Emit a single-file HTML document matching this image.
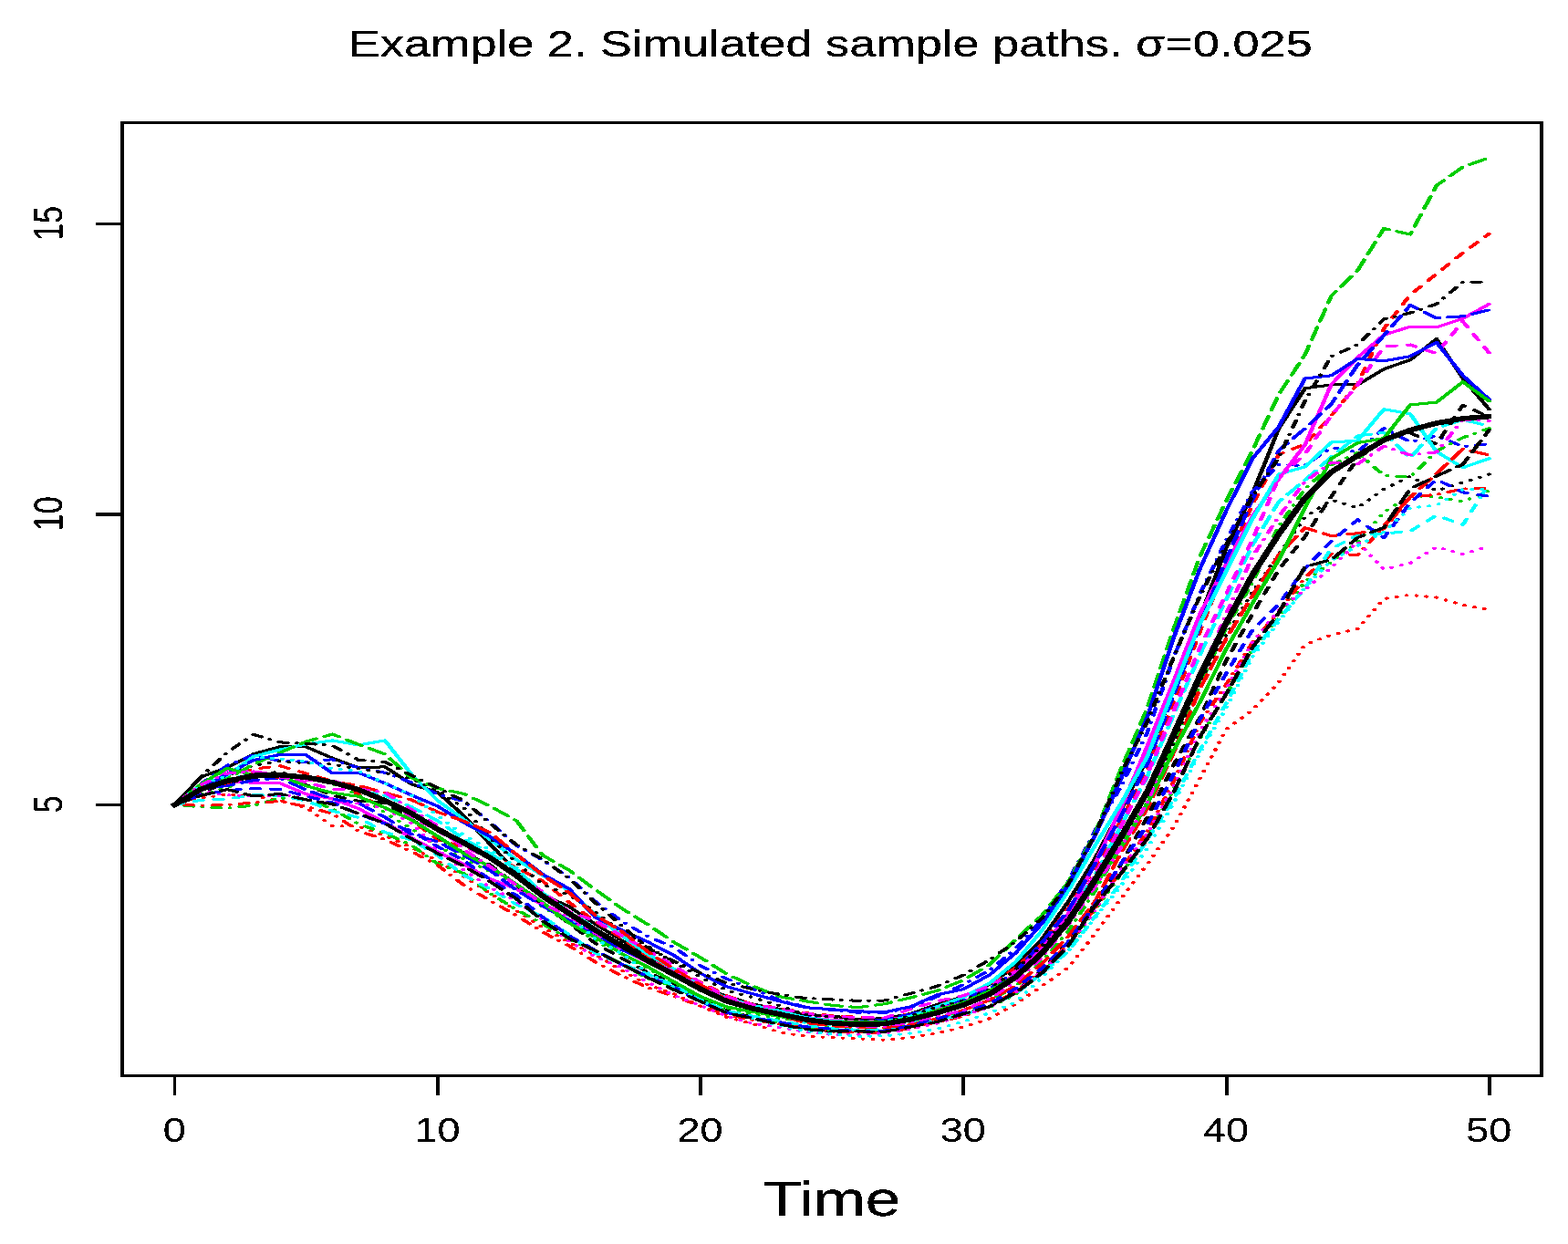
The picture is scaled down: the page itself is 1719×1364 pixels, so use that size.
<!DOCTYPE html>
<html lang="en"><head><meta charset="utf-8"><title>Example 2. Simulated sample paths</title>
<style>html,body{margin:0;padding:0;background:#ffffff;}body{width:1719px;height:1364px;overflow:hidden;}svg{display:block;}text{font-family:"Liberation Sans",sans-serif;fill:#000;}</style></head><body>
<svg width="1719" height="1364" viewBox="0 0 1719 1364">
<defs><filter id="crisp" x="-5%" y="-20%" width="110%" height="140%" color-interpolation-filters="sRGB"><feComponentTransfer><feFuncA type="discrete" tableValues="0 1 1 1"/></feComponentTransfer></filter><filter id="crisp2" x="-5%" y="-5%" width="110%" height="110%" color-interpolation-filters="sRGB"><feComponentTransfer><feFuncA type="discrete" tableValues="0 0 1 1 1"/></feComponentTransfer></filter></defs>
<rect x="0" y="0" width="1719" height="1364" fill="#ffffff"/>
<g transform="scale(1.290000,1)">
<g fill="none" stroke-linejoin="round" stroke-linecap="round" shape-rendering="crispEdges">
<path d="M148.2,882.5 L170.5,851.9 L192.8,841.7 L215.2,826.7 L237.5,818.8 L259.9,818.9 L282.2,831.3 L304.5,841.9 L326.9,840.8 L349.2,859.8 L371.6,868.7 L393.9,894.4 L416.3,925.8 L438.6,955.8 L460.9,981.2 L483.3,994.0 L505.6,1013.2 L528.0,1031.0 L550.3,1049.6 L572.6,1062.4 L595.0,1082.2 L617.3,1092.2 L639.7,1101.2 L662.0,1106.4 L684.3,1112.4 L706.7,1113.9 L729.0,1117.7 L751.4,1116.7 L773.7,1111.5 L796.1,1101.3 L818.4,1092.8 L840.7,1079.3 L863.1,1059.2 L885.4,1029.3 L907.8,988.1 L930.1,941.7 L952.4,887.8 L974.8,831.2 L997.1,756.0 L1019.5,676.7 L1041.8,600.9 L1064.1,541.4 L1086.5,469.7 L1108.8,425.8 L1131.2,421.9 L1153.5,421.9 L1175.8,404.7 L1198.2,394.6 L1220.5,371.6 L1242.9,414.9 L1265.2,448.7 M148.7,882.5 L171.1,851.9 L193.4,841.7 L215.8,826.7 L238.1,818.8 L260.4,818.9 L282.8,831.3 L305.1,841.9 L327.5,840.8 L349.8,859.8 L372.2,868.7 L394.5,894.4 L416.8,925.8 L439.2,955.8 L461.5,981.2 L483.9,994.0 L506.2,1013.2 L528.5,1031.0 L550.9,1049.6 L573.2,1062.4 L595.6,1082.2 L617.9,1092.2 L640.2,1101.2 L662.6,1106.4 L684.9,1112.4 L707.3,1113.9 L729.6,1117.7 L751.9,1116.7 L774.3,1111.5 L796.6,1101.3 L819.0,1092.8 L841.3,1079.3 L863.7,1059.2 L886.0,1029.3 L908.3,988.1 L930.7,941.7 L953.0,887.8 L975.4,831.2 L997.7,756.0 L1020.0,676.7 L1042.4,600.9 L1064.7,541.4 L1087.1,469.7 L1109.4,425.8 L1131.7,421.9 L1154.1,421.9 L1176.4,404.7 L1198.8,394.6 L1221.1,371.6 L1243.5,414.9 L1265.8,448.7" stroke="#000000" stroke-width="3.0"/>
<path d="M148.2,882.5 L170.5,861.5 L192.8,849.8 L215.2,843.1 L237.5,839.7 L259.9,848.1 L282.2,856.4 L304.5,871.2 L326.9,886.0 L349.2,898.9 L371.6,920.7 L393.9,928.8 L416.3,937.3 L438.6,951.3 L460.9,966.2 L483.3,989.3 L505.6,1010.4 L528.0,1028.4 L550.3,1048.4 L572.6,1063.5 L595.0,1076.8 L617.3,1091.8 L639.7,1101.5 L662.0,1105.2 L684.3,1110.7 L706.7,1113.7 L729.0,1115.3 L751.4,1116.3 L773.7,1111.8 L796.1,1103.5 L818.4,1093.0 L840.7,1080.3 L863.1,1061.2 L885.4,1034.8 L907.8,995.6 L930.1,951.6 L952.4,899.1 L974.8,843.2 L997.1,769.8 L1019.5,692.8 L1041.8,618.4 L1064.1,553.2 L1086.5,498.4 L1108.8,486.9 L1131.2,455.7 L1153.5,420.7 L1175.8,360.2 L1198.2,323.2 L1220.5,300.3 L1242.9,277.3 L1265.2,256.3 M148.7,882.5 L171.1,861.5 L193.4,849.8 L215.8,843.1 L238.1,839.7 L260.4,848.1 L282.8,856.4 L305.1,871.2 L327.5,886.0 L349.8,898.9 L372.2,920.7 L394.5,928.8 L416.8,937.3 L439.2,951.3 L461.5,966.2 L483.9,989.3 L506.2,1010.4 L528.5,1028.4 L550.9,1048.4 L573.2,1063.5 L595.6,1076.8 L617.9,1091.8 L640.2,1101.5 L662.6,1105.2 L684.9,1110.7 L707.3,1113.7 L729.6,1115.3 L751.9,1116.3 L774.3,1111.8 L796.6,1103.5 L819.0,1093.0 L841.3,1080.3 L863.7,1061.2 L886.0,1034.8 L908.3,995.6 L930.7,951.6 L953.0,899.1 L975.4,843.2 L997.7,769.8 L1020.0,692.8 L1042.4,618.4 L1064.7,553.2 L1087.1,498.4 L1109.4,486.9 L1131.7,455.7 L1154.1,420.7 L1176.4,360.2 L1198.8,323.2 L1221.1,300.3 L1243.5,277.3 L1265.8,256.3" stroke="#ff0000" stroke-width="3.0" stroke-dasharray="7.62 9.42"/>
<path d="M148.2,882.5 L170.5,871.0 L192.8,863.8 L215.2,849.6 L237.5,851.0 L259.9,852.9 L282.2,859.5 L304.5,871.9 L326.9,891.2 L349.2,908.4 L371.6,927.9 L393.9,941.6 L416.3,955.6 L438.6,972.8 L460.9,994.6 L483.3,1011.6 L505.6,1032.0 L528.0,1046.2 L550.3,1061.9 L572.6,1077.7 L595.0,1092.4 L617.3,1105.7 L639.7,1112.4 L662.0,1116.7 L684.3,1120.3 L706.7,1126.2 L729.0,1129.8 L751.4,1130.2 L773.7,1126.3 L796.1,1119.4 L818.4,1111.8 L840.7,1105.0 L863.1,1089.8 L885.4,1066.7 L907.8,1037.3 L930.1,998.3 L952.4,958.9 L974.8,918.3 L997.1,865.5 L1019.5,809.9 L1041.8,760.8 L1064.1,712.7 L1086.5,677.3 L1108.8,637.6 L1131.2,616.2 L1153.5,594.9 L1175.8,561.5 L1198.2,543.6 L1220.5,544.9 L1242.9,550.0 L1265.2,537.9 M148.7,882.5 L171.1,871.0 L193.4,863.8 L215.8,849.6 L238.1,851.0 L260.4,852.9 L282.8,859.5 L305.1,871.9 L327.5,891.2 L349.8,908.4 L372.2,927.9 L394.5,941.6 L416.8,955.6 L439.2,972.8 L461.5,994.6 L483.9,1011.6 L506.2,1032.0 L528.5,1046.2 L550.9,1061.9 L573.2,1077.7 L595.6,1092.4 L617.9,1105.7 L640.2,1112.4 L662.6,1116.7 L684.9,1120.3 L707.3,1126.2 L729.6,1129.8 L751.9,1130.2 L774.3,1126.3 L796.6,1119.4 L819.0,1111.8 L841.3,1105.0 L863.7,1089.8 L886.0,1066.7 L908.3,1037.3 L930.7,998.3 L953.0,958.9 L975.4,918.3 L997.7,865.5 L1020.0,809.9 L1042.4,760.8 L1064.7,712.7 L1087.1,677.3 L1109.4,637.6 L1131.7,616.2 L1154.1,594.9 L1176.4,561.5 L1198.8,543.6 L1221.1,544.9 L1243.5,550.0 L1265.8,537.9" stroke="#00cd00" stroke-width="3.0" stroke-dasharray="0.33 8.19"/>
<path d="M148.2,882.5 L170.5,859.6 L192.8,839.4 L215.2,827.9 L237.5,834.4 L259.9,835.2 L282.2,832.8 L304.5,841.9 L326.9,847.3 L349.2,857.8 L371.6,870.7 L393.9,878.7 L416.3,901.6 L438.6,927.1 L460.9,943.0 L483.3,962.1 L505.6,988.4 L528.0,1009.9 L550.3,1026.8 L572.6,1038.8 L595.0,1058.9 L617.3,1073.3 L639.7,1084.3 L662.0,1096.5 L684.3,1104.2 L706.7,1107.4 L729.0,1110.2 L751.4,1110.5 L773.7,1104.8 L796.1,1092.7 L818.4,1079.5 L840.7,1063.8 L863.1,1040.0 L885.4,1008.3 L907.8,965.6 L930.1,911.6 L952.4,862.3 L974.8,802.9 L997.1,720.8 L1019.5,651.4 L1041.8,592.5 L1064.1,538.9 L1086.5,509.7 L1108.8,510.2 L1131.2,490.7 L1153.5,495.8 L1175.8,469.7 L1198.2,484.4 L1220.5,478.0 L1242.9,489.5 L1265.2,486.9 M148.7,882.5 L171.1,859.6 L193.4,839.4 L215.8,827.9 L238.1,834.4 L260.4,835.2 L282.8,832.8 L305.1,841.9 L327.5,847.3 L349.8,857.8 L372.2,870.7 L394.5,878.7 L416.8,901.6 L439.2,927.1 L461.5,943.0 L483.9,962.1 L506.2,988.4 L528.5,1009.9 L550.9,1026.8 L573.2,1038.8 L595.6,1058.9 L617.9,1073.3 L640.2,1084.3 L662.6,1096.5 L684.9,1104.2 L707.3,1107.4 L729.6,1110.2 L751.9,1110.5 L774.3,1104.8 L796.6,1092.7 L819.0,1079.5 L841.3,1063.8 L863.7,1040.0 L886.0,1008.3 L908.3,965.6 L930.7,911.6 L953.0,862.3 L975.4,802.9 L997.7,720.8 L1020.0,651.4 L1042.4,592.5 L1064.7,538.9 L1087.1,509.7 L1109.4,510.2 L1131.7,490.7 L1154.1,495.8 L1176.4,469.7 L1198.8,484.4 L1221.1,478.0 L1243.5,489.5 L1265.8,486.9" stroke="#0000ff" stroke-width="3.0" stroke-dasharray="0.33 8.19 7.62 7.29"/>
<path d="M148.2,882.5 L170.5,863.1 L192.8,853.7 L215.2,849.4 L237.5,848.5 L259.9,854.3 L282.2,856.2 L304.5,866.6 L326.9,872.3 L349.2,884.6 L371.6,899.9 L393.9,919.9 L416.3,935.7 L438.6,953.1 L460.9,979.2 L483.3,999.4 L505.6,1017.6 L528.0,1038.3 L550.3,1054.1 L572.6,1067.5 L595.0,1084.9 L617.3,1097.7 L639.7,1107.6 L662.0,1113.6 L684.3,1121.4 L706.7,1123.7 L729.0,1124.8 L751.4,1124.1 L773.7,1120.4 L796.1,1111.7 L818.4,1100.2 L840.7,1091.3 L863.1,1070.0 L885.4,1039.8 L907.8,1002.6 L930.1,960.6 L952.4,905.3 L974.8,851.2 L997.1,783.7 L1019.5,718.1 L1041.8,657.2 L1064.1,597.8 L1086.5,550.0 L1108.8,526.4 L1131.2,500.9 L1153.5,478.0 L1175.8,474.2 L1198.2,502.2 L1220.5,469.4 L1242.9,460.2 L1265.2,467.2 M148.7,882.5 L171.1,863.1 L193.4,853.7 L215.8,849.4 L238.1,848.5 L260.4,854.3 L282.8,856.2 L305.1,866.6 L327.5,872.3 L349.8,884.6 L372.2,899.9 L394.5,919.9 L416.8,935.7 L439.2,953.1 L461.5,979.2 L483.9,999.4 L506.2,1017.6 L528.5,1038.3 L550.9,1054.1 L573.2,1067.5 L595.6,1084.9 L617.9,1097.7 L640.2,1107.6 L662.6,1113.6 L684.9,1121.4 L707.3,1123.7 L729.6,1124.8 L751.9,1124.1 L774.3,1120.4 L796.6,1111.7 L819.0,1100.2 L841.3,1091.3 L863.7,1070.0 L886.0,1039.8 L908.3,1002.6 L930.7,960.6 L953.0,905.3 L975.4,851.2 L997.7,783.7 L1020.0,718.1 L1042.4,657.2 L1064.7,597.8 L1087.1,550.0 L1109.4,526.4 L1131.7,500.9 L1154.1,478.0 L1176.4,474.2 L1198.8,502.2 L1221.1,469.4 L1243.5,460.2 L1265.8,467.2" stroke="#00ffff" stroke-width="3.0" stroke-dasharray="14.01 7.29"/>
<path d="M148.2,882.5 L170.5,866.3 L192.8,857.1 L215.2,858.2 L237.5,858.7 L259.9,870.7 L282.2,875.7 L304.5,886.7 L326.9,902.0 L349.2,918.5 L371.6,934.1 L393.9,947.7 L416.3,963.7 L438.6,974.7 L460.9,992.7 L483.3,1008.7 L505.6,1025.2 L528.0,1041.0 L550.3,1055.4 L572.6,1069.3 L595.0,1083.4 L617.3,1097.0 L639.7,1108.3 L662.0,1112.5 L684.3,1115.3 L706.7,1118.4 L729.0,1119.9 L751.4,1119.0 L773.7,1113.8 L796.1,1105.9 L818.4,1098.2 L840.7,1086.4 L863.1,1068.1 L885.4,1040.3 L907.8,1001.1 L930.1,947.6 L952.4,886.4 L974.8,817.9 L997.1,746.9 L1019.5,673.0 L1041.8,618.4 L1064.1,565.9 L1086.5,525.1 L1108.8,487.6 L1131.2,421.3 L1153.5,392.0 L1175.8,367.2 L1198.2,358.2 L1220.5,358.9 L1242.9,349.3 L1265.2,333.4 M148.7,882.5 L171.1,866.3 L193.4,857.1 L215.8,858.2 L238.1,858.7 L260.4,870.7 L282.8,875.7 L305.1,886.7 L327.5,902.0 L349.8,918.5 L372.2,934.1 L394.5,947.7 L416.8,963.7 L439.2,974.7 L461.5,992.7 L483.9,1008.7 L506.2,1025.2 L528.5,1041.0 L550.9,1055.4 L573.2,1069.3 L595.6,1083.4 L617.9,1097.0 L640.2,1108.3 L662.6,1112.5 L684.9,1115.3 L707.3,1118.4 L729.6,1119.9 L751.9,1119.0 L774.3,1113.8 L796.6,1105.9 L819.0,1098.2 L841.3,1086.4 L863.7,1068.1 L886.0,1040.3 L908.3,1001.1 L930.7,947.6 L953.0,886.4 L975.4,817.9 L997.7,746.9 L1020.0,673.0 L1042.4,618.4 L1064.7,565.9 L1087.1,525.1 L1109.4,487.6 L1131.7,421.3 L1154.1,392.0 L1176.4,367.2 L1198.8,358.2 L1221.1,358.9 L1243.5,349.3 L1265.8,333.4" stroke="#ff00ff" stroke-width="3.0"/>
<path d="M148.2,882.5 L170.5,869.1 L192.8,858.2 L215.2,854.2 L237.5,845.1 L259.9,860.6 L282.2,872.1 L304.5,878.4 L326.9,880.5 L349.2,898.2 L371.6,917.7 L393.9,935.5 L416.3,948.3 L438.6,970.5 L460.9,991.5 L483.3,1012.4 L505.6,1034.3 L528.0,1050.6 L550.3,1066.1 L572.6,1078.6 L595.0,1094.3 L617.3,1108.2 L639.7,1115.5 L662.0,1121.4 L684.3,1127.0 L706.7,1131.1 L729.0,1131.9 L751.4,1131.5 L773.7,1125.8 L796.1,1118.6 L818.4,1110.7 L840.7,1103.3 L863.1,1086.4 L885.4,1063.7 L907.8,1032.3 L930.1,991.5 L952.4,947.5 L974.8,895.8 L997.1,838.7 L1019.5,786.7 L1041.8,724.5 L1064.1,673.1 L1086.5,624.5 L1108.8,588.2 L1131.2,544.3 L1153.5,502.8 L1175.8,482.5 L1198.2,474.8 L1220.5,486.9 L1242.9,444.2 L1265.2,457.0 M148.7,882.5 L171.1,869.1 L193.4,858.2 L215.8,854.2 L238.1,845.1 L260.4,860.6 L282.8,872.1 L305.1,878.4 L327.5,880.5 L349.8,898.2 L372.2,917.7 L394.5,935.5 L416.8,948.3 L439.2,970.5 L461.5,991.5 L483.9,1012.4 L506.2,1034.3 L528.5,1050.6 L550.9,1066.1 L573.2,1078.6 L595.6,1094.3 L617.9,1108.2 L640.2,1115.5 L662.6,1121.4 L684.9,1127.0 L707.3,1131.1 L729.6,1131.9 L751.9,1131.5 L774.3,1125.8 L796.6,1118.6 L819.0,1110.7 L841.3,1103.3 L863.7,1086.4 L886.0,1063.7 L908.3,1032.3 L930.7,991.5 L953.0,947.5 L975.4,895.8 L997.7,838.7 L1020.0,786.7 L1042.4,724.5 L1064.7,673.1 L1087.1,624.5 L1109.4,588.2 L1131.7,544.3 L1154.1,502.8 L1176.4,482.5 L1198.8,474.8 L1221.1,486.9 L1243.5,444.2 L1265.8,457.0" stroke="#000000" stroke-width="3.0" stroke-dasharray="7.62 9.42"/>
<path d="M148.2,882.5 L170.5,874.9 L192.8,871.0 L215.2,872.9 L237.5,877.4 L259.9,885.7 L282.2,905.7 L304.5,906.1 L326.9,916.3 L349.2,929.0 L371.6,944.3 L393.9,960.9 L416.3,979.5 L438.6,998.5 L460.9,1017.0 L483.3,1033.5 L505.6,1046.6 L528.0,1063.9 L550.3,1079.8 L572.6,1089.8 L595.0,1103.2 L617.3,1115.2 L639.7,1122.9 L662.0,1131.8 L684.3,1136.1 L706.7,1137.5 L729.0,1139.0 L751.4,1140.2 L773.7,1137.5 L796.1,1132.9 L818.4,1126.1 L840.7,1116.8 L863.1,1100.7 L885.4,1080.9 L907.8,1061.0 L930.1,1023.9 L952.4,985.4 L974.8,947.5 L997.1,906.7 L1019.5,853.8 L1041.8,799.7 L1064.1,778.7 L1086.5,748.1 L1108.8,707.0 L1131.2,696.1 L1153.5,689.5 L1175.8,656.5 L1198.2,652.4 L1220.5,655.0 L1242.9,663.5 L1265.2,668.7 M148.7,882.5 L171.1,874.9 L193.4,871.0 L215.8,872.9 L238.1,877.4 L260.4,885.7 L282.8,905.7 L305.1,906.1 L327.5,916.3 L349.8,929.0 L372.2,944.3 L394.5,960.9 L416.8,979.5 L439.2,998.5 L461.5,1017.0 L483.9,1033.5 L506.2,1046.6 L528.5,1063.9 L550.9,1079.8 L573.2,1089.8 L595.6,1103.2 L617.9,1115.2 L640.2,1122.9 L662.6,1131.8 L684.9,1136.1 L707.3,1137.5 L729.6,1139.0 L751.9,1140.2 L774.3,1137.5 L796.6,1132.9 L819.0,1126.1 L841.3,1116.8 L863.7,1100.7 L886.0,1080.9 L908.3,1061.0 L930.7,1023.9 L953.0,985.4 L975.4,947.5 L997.7,906.7 L1020.0,853.8 L1042.4,799.7 L1064.7,778.7 L1087.1,748.1 L1109.4,707.0 L1131.7,696.1 L1154.1,689.5 L1176.4,656.5 L1198.8,652.4 L1221.1,655.0 L1243.5,663.5 L1265.8,668.7" stroke="#ff0000" stroke-width="3.0" stroke-dasharray="0.33 8.19"/>
<path d="M148.2,882.5 L170.5,884.7 L192.8,886.3 L215.2,883.1 L237.5,875.2 L259.9,875.2 L282.2,886.9 L304.5,903.5 L326.9,913.6 L349.2,926.7 L371.6,947.0 L393.9,957.7 L416.3,979.6 L438.6,997.4 L460.9,1013.1 L483.3,1029.4 L505.6,1042.4 L528.0,1056.5 L550.3,1073.1 L572.6,1081.4 L595.0,1096.1 L617.3,1108.2 L639.7,1116.2 L662.0,1121.7 L684.3,1126.6 L706.7,1129.7 L729.0,1130.3 L751.4,1127.0 L773.7,1121.9 L796.1,1115.7 L818.4,1108.4 L840.7,1097.4 L863.1,1081.3 L885.4,1054.0 L907.8,1020.6 L930.1,977.3 L952.4,927.0 L974.8,879.7 L997.1,817.3 L1019.5,750.1 L1041.8,688.3 L1064.1,638.6 L1086.5,576.7 L1108.8,536.0 L1131.2,509.9 L1153.5,496.5 L1175.8,521.3 L1198.2,523.2 L1220.5,494.6 L1242.9,479.9 L1265.2,469.7 M148.7,882.5 L171.1,884.7 L193.4,886.3 L215.8,883.1 L238.1,875.2 L260.4,875.2 L282.8,886.9 L305.1,903.5 L327.5,913.6 L349.8,926.7 L372.2,947.0 L394.5,957.7 L416.8,979.6 L439.2,997.4 L461.5,1013.1 L483.9,1029.4 L506.2,1042.4 L528.5,1056.5 L550.9,1073.1 L573.2,1081.4 L595.6,1096.1 L617.9,1108.2 L640.2,1116.2 L662.6,1121.7 L684.9,1126.6 L707.3,1129.7 L729.6,1130.3 L751.9,1127.0 L774.3,1121.9 L796.6,1115.7 L819.0,1108.4 L841.3,1097.4 L863.7,1081.3 L886.0,1054.0 L908.3,1020.6 L930.7,977.3 L953.0,927.0 L975.4,879.7 L997.7,817.3 L1020.0,750.1 L1042.4,688.3 L1064.7,638.6 L1087.1,576.7 L1109.4,536.0 L1131.7,509.9 L1154.1,496.5 L1176.4,521.3 L1198.8,523.2 L1221.1,494.6 L1243.5,479.9 L1265.8,469.7" stroke="#00cd00" stroke-width="3.0" stroke-dasharray="0.33 8.19 7.62 7.29"/>
<path d="M148.2,882.5 L170.5,865.3 L192.8,861.4 L215.2,855.6 L237.5,852.8 L259.9,866.2 L282.2,876.0 L304.5,880.6 L326.9,896.1 L349.2,914.5 L371.6,923.0 L393.9,937.8 L416.3,954.3 L438.6,975.9 L460.9,993.4 L483.3,1009.6 L505.6,1023.4 L528.0,1041.3 L550.3,1053.5 L572.6,1069.3 L595.0,1084.8 L617.3,1096.2 L639.7,1104.0 L662.0,1109.6 L684.3,1115.1 L706.7,1119.7 L729.0,1120.2 L751.4,1117.9 L773.7,1112.1 L796.1,1103.5 L818.4,1096.0 L840.7,1083.9 L863.1,1065.2 L885.4,1033.2 L907.8,998.1 L930.1,947.6 L952.4,894.9 L974.8,837.5 L997.1,761.9 L1019.5,685.9 L1041.8,613.2 L1064.1,547.5 L1086.5,493.9 L1108.8,469.7 L1131.2,443.0 L1153.5,400.0 L1175.8,367.8 L1198.2,334.7 L1220.5,348.7 L1242.9,346.8 L1265.2,339.8 M148.7,882.5 L171.1,865.3 L193.4,861.4 L215.8,855.6 L238.1,852.8 L260.4,866.2 L282.8,876.0 L305.1,880.6 L327.5,896.1 L349.8,914.5 L372.2,923.0 L394.5,937.8 L416.8,954.3 L439.2,975.9 L461.5,993.4 L483.9,1009.6 L506.2,1023.4 L528.5,1041.3 L550.9,1053.5 L573.2,1069.3 L595.6,1084.8 L617.9,1096.2 L640.2,1104.0 L662.6,1109.6 L684.9,1115.1 L707.3,1119.7 L729.6,1120.2 L751.9,1117.9 L774.3,1112.1 L796.6,1103.5 L819.0,1096.0 L841.3,1083.9 L863.7,1065.2 L886.0,1033.2 L908.3,998.1 L930.7,947.6 L953.0,894.9 L975.4,837.5 L997.7,761.9 L1020.0,685.9 L1042.4,613.2 L1064.7,547.5 L1087.1,493.9 L1109.4,469.7 L1131.7,443.0 L1154.1,400.0 L1176.4,367.8 L1198.8,334.7 L1221.1,348.7 L1243.5,346.8 L1265.8,339.8" stroke="#0000ff" stroke-width="3.0" stroke-dasharray="14.01 7.29"/>
<path d="M148.2,882.5 L170.5,863.4 L192.8,850.6 L215.2,829.4 L237.5,822.0 L259.9,815.9 L282.2,811.9 L304.5,816.9 L326.9,811.9 L349.2,848.7 L371.6,877.7 L393.9,898.4 L416.3,920.7 L438.6,942.8 L460.9,959.7 L483.3,976.6 L505.6,1003.0 L528.0,1026.0 L550.3,1046.3 L572.6,1062.7 L595.0,1081.2 L617.3,1094.4 L639.7,1102.5 L662.0,1108.3 L684.3,1115.7 L706.7,1119.3 L729.0,1120.9 L751.4,1120.1 L773.7,1114.3 L796.1,1103.8 L818.4,1093.3 L840.7,1078.1 L863.1,1054.4 L885.4,1020.0 L907.8,976.4 L930.1,927.6 L952.4,880.7 L974.8,829.5 L997.1,756.0 L1019.5,684.1 L1041.8,626.2 L1064.1,569.1 L1086.5,520.0 L1108.8,511.8 L1131.2,485.0 L1153.5,483.1 L1175.8,448.7 L1198.2,453.8 L1220.5,495.2 L1242.9,512.7 L1265.2,502.8 M148.7,882.5 L171.1,863.4 L193.4,850.6 L215.8,829.4 L238.1,822.0 L260.4,815.9 L282.8,811.9 L305.1,816.9 L327.5,811.9 L349.8,848.7 L372.2,877.7 L394.5,898.4 L416.8,920.7 L439.2,942.8 L461.5,959.7 L483.9,976.6 L506.2,1003.0 L528.5,1026.0 L550.9,1046.3 L573.2,1062.7 L595.6,1081.2 L617.9,1094.4 L640.2,1102.5 L662.6,1108.3 L684.9,1115.7 L707.3,1119.3 L729.6,1120.9 L751.9,1120.1 L774.3,1114.3 L796.6,1103.8 L819.0,1093.3 L841.3,1078.1 L863.7,1054.4 L886.0,1020.0 L908.3,976.4 L930.7,927.6 L953.0,880.7 L975.4,829.5 L997.7,756.0 L1020.0,684.1 L1042.4,626.2 L1064.7,569.1 L1087.1,520.0 L1109.4,511.8 L1131.7,485.0 L1154.1,483.1 L1176.4,448.7 L1198.8,453.8 L1221.1,495.2 L1243.5,512.7 L1265.8,502.8" stroke="#00ffff" stroke-width="3.0"/>
<path d="M148.2,882.5 L170.5,862.9 L192.8,843.6 L215.2,845.8 L237.5,850.1 L259.9,857.8 L282.2,865.2 L304.5,865.6 L326.9,877.9 L349.2,895.5 L371.6,910.7 L393.9,928.5 L416.3,940.5 L438.6,959.5 L460.9,977.7 L483.3,999.5 L505.6,1009.7 L528.0,1025.8 L550.3,1042.3 L572.6,1058.9 L595.0,1077.4 L617.3,1092.4 L639.7,1101.9 L662.0,1105.5 L684.3,1111.2 L706.7,1114.4 L729.0,1115.6 L751.4,1116.0 L773.7,1106.3 L796.1,1097.8 L818.4,1091.6 L840.7,1081.3 L863.1,1065.0 L885.4,1040.3 L907.8,1006.8 L930.1,959.4 L952.4,906.2 L974.8,849.2 L997.1,779.7 L1019.5,709.8 L1041.8,651.0 L1064.1,591.7 L1086.5,523.6 L1108.8,497.8 L1131.2,455.7 L1153.5,421.9 L1175.8,379.9 L1198.2,378.0 L1220.5,387.6 L1242.9,352.5 L1265.2,386.9 M148.7,882.5 L171.1,862.9 L193.4,843.6 L215.8,845.8 L238.1,850.1 L260.4,857.8 L282.8,865.2 L305.1,865.6 L327.5,877.9 L349.8,895.5 L372.2,910.7 L394.5,928.5 L416.8,940.5 L439.2,959.5 L461.5,977.7 L483.9,999.5 L506.2,1009.7 L528.5,1025.8 L550.9,1042.3 L573.2,1058.9 L595.6,1077.4 L617.9,1092.4 L640.2,1101.9 L662.6,1105.5 L684.9,1111.2 L707.3,1114.4 L729.6,1115.6 L751.9,1116.0 L774.3,1106.3 L796.6,1097.8 L819.0,1091.6 L841.3,1081.3 L863.7,1065.0 L886.0,1040.3 L908.3,1006.8 L930.7,959.4 L953.0,906.2 L975.4,849.2 L997.7,779.7 L1020.0,709.8 L1042.4,651.0 L1064.7,591.7 L1087.1,523.6 L1109.4,497.8 L1131.7,455.7 L1154.1,421.9 L1176.4,379.9 L1198.8,378.0 L1221.1,387.6 L1243.5,352.5 L1265.8,386.9" stroke="#ff00ff" stroke-width="3.0" stroke-dasharray="7.62 9.42"/>
<path d="M148.2,882.5 L170.5,863.4 L192.8,850.6 L215.2,839.2 L237.5,834.7 L259.9,836.6 L282.2,837.9 L304.5,843.0 L326.9,847.5 L349.2,853.8 L371.6,866.6 L393.9,885.9 L416.3,918.8 L438.6,945.8 L460.9,969.7 L483.3,981.6 L505.6,999.7 L528.0,1021.5 L550.3,1037.6 L572.6,1055.6 L595.0,1071.3 L617.3,1086.0 L639.7,1093.7 L662.0,1102.7 L684.3,1112.2 L706.7,1115.3 L729.0,1119.1 L751.4,1119.8 L773.7,1113.8 L796.1,1104.3 L818.4,1097.0 L840.7,1085.2 L863.1,1062.6 L885.4,1036.8 L907.8,1006.6 L930.1,968.8 L952.4,926.2 L974.8,881.2 L997.1,815.3 L1019.5,747.0 L1041.8,696.6 L1064.1,649.1 L1086.5,607.6 L1108.8,566.9 L1131.2,548.1 L1153.5,557.0 L1175.8,536.3 L1198.2,522.3 L1220.5,538.2 L1242.9,529.0 L1265.2,520.0 M148.7,882.5 L171.1,863.4 L193.4,850.6 L215.8,839.2 L238.1,834.7 L260.4,836.6 L282.8,837.9 L305.1,843.0 L327.5,847.5 L349.8,853.8 L372.2,866.6 L394.5,885.9 L416.8,918.8 L439.2,945.8 L461.5,969.7 L483.9,981.6 L506.2,999.7 L528.5,1021.5 L550.9,1037.6 L573.2,1055.6 L595.6,1071.3 L617.9,1086.0 L640.2,1093.7 L662.6,1102.7 L684.9,1112.2 L707.3,1115.3 L729.6,1119.1 L751.9,1119.8 L774.3,1113.8 L796.6,1104.3 L819.0,1097.0 L841.3,1085.2 L863.7,1062.6 L886.0,1036.8 L908.3,1006.6 L930.7,968.8 L953.0,926.2 L975.4,881.2 L997.7,815.3 L1020.0,747.0 L1042.4,696.6 L1064.7,649.1 L1087.1,607.6 L1109.4,566.9 L1131.7,548.1 L1154.1,557.0 L1176.4,536.3 L1198.8,522.3 L1221.1,538.2 L1243.5,529.0 L1265.8,520.0" stroke="#000000" stroke-width="3.0" stroke-dasharray="0.33 8.19"/>
<path d="M148.2,882.5 L170.5,883.1 L192.8,882.5 L215.2,880.0 L237.5,878.7 L259.9,884.4 L282.2,892.1 L304.5,911.2 L326.9,920.7 L349.2,933.5 L371.6,948.7 L393.9,970.5 L416.3,987.6 L438.6,1003.7 L460.9,1022.1 L483.3,1037.1 L505.6,1054.7 L528.0,1069.7 L550.3,1083.0 L572.6,1092.5 L595.0,1103.1 L617.3,1112.5 L639.7,1118.3 L662.0,1122.8 L684.3,1127.4 L706.7,1131.0 L729.0,1131.8 L751.4,1132.5 L773.7,1127.4 L796.1,1120.7 L818.4,1114.3 L840.7,1102.8 L863.1,1087.1 L885.4,1065.2 L907.8,1034.3 L930.1,995.9 L952.4,954.1 L974.8,911.4 L997.1,857.2 L1019.5,792.3 L1041.8,750.4 L1064.1,704.6 L1086.5,670.6 L1108.8,633.2 L1131.2,607.3 L1153.5,608.6 L1175.8,576.7 L1198.2,544.9 L1220.5,542.3 L1242.9,536.0 L1265.2,535.3 M148.7,882.5 L171.1,883.1 L193.4,882.5 L215.8,880.0 L238.1,878.7 L260.4,884.4 L282.8,892.1 L305.1,911.2 L327.5,920.7 L349.8,933.5 L372.2,948.7 L394.5,970.5 L416.8,987.6 L439.2,1003.7 L461.5,1022.1 L483.9,1037.1 L506.2,1054.7 L528.5,1069.7 L550.9,1083.0 L573.2,1092.5 L595.6,1103.1 L617.9,1112.5 L640.2,1118.3 L662.6,1122.8 L684.9,1127.4 L707.3,1131.0 L729.6,1131.8 L751.9,1132.5 L774.3,1127.4 L796.6,1120.7 L819.0,1114.3 L841.3,1102.8 L863.7,1087.1 L886.0,1065.2 L908.3,1034.3 L930.7,995.9 L953.0,954.1 L975.4,911.4 L997.7,857.2 L1020.0,792.3 L1042.4,750.4 L1064.7,704.6 L1087.1,670.6 L1109.4,633.2 L1131.7,607.3 L1154.1,608.6 L1176.4,576.7 L1198.8,544.9 L1221.1,542.3 L1243.5,536.0 L1265.8,535.3" stroke="#ff0000" stroke-width="3.0" stroke-dasharray="0.33 8.19 7.62 7.29"/>
<path d="M148.2,882.5 L170.5,861.5 L192.8,853.8 L215.2,837.9 L237.5,825.4 L259.9,813.1 L282.2,805.0 L304.5,816.3 L326.9,826.9 L349.2,852.8 L371.6,864.3 L393.9,870.4 L416.3,883.9 L438.6,899.9 L460.9,937.8 L483.3,954.1 L505.6,975.4 L528.0,995.9 L550.3,1013.8 L572.6,1033.2 L595.0,1049.9 L617.3,1067.9 L639.7,1081.3 L662.0,1092.7 L684.3,1097.7 L706.7,1102.3 L729.0,1104.6 L751.4,1100.8 L773.7,1093.9 L796.1,1086.3 L818.4,1074.7 L840.7,1057.8 L863.1,1029.8 L885.4,1003.5 L907.8,966.9 L930.1,914.6 L952.4,843.3 L974.8,776.2 L997.1,689.9 L1019.5,610.0 L1041.8,549.3 L1064.1,493.9 L1086.5,432.5 L1108.8,388.8 L1131.2,324.5 L1153.5,296.5 L1175.8,250.6 L1198.2,257.0 L1220.5,203.5 L1242.9,183.1 L1265.2,172.9 M148.7,882.5 L171.1,861.5 L193.4,853.8 L215.8,837.9 L238.1,825.4 L260.4,813.1 L282.8,805.0 L305.1,816.3 L327.5,826.9 L349.8,852.8 L372.2,864.3 L394.5,870.4 L416.8,883.9 L439.2,899.9 L461.5,937.8 L483.9,954.1 L506.2,975.4 L528.5,995.9 L550.9,1013.8 L573.2,1033.2 L595.6,1049.9 L617.9,1067.9 L640.2,1081.3 L662.6,1092.7 L684.9,1097.7 L707.3,1102.3 L729.6,1104.6 L751.9,1100.8 L774.3,1093.9 L796.6,1086.3 L819.0,1074.7 L841.3,1057.8 L863.7,1029.8 L886.0,1003.5 L908.3,966.9 L930.7,914.6 L953.0,843.3 L975.4,776.2 L997.7,689.9 L1020.0,610.0 L1042.4,549.3 L1064.7,493.9 L1087.1,432.5 L1109.4,388.8 L1131.7,324.5 L1154.1,296.5 L1176.4,250.6 L1198.8,257.0 L1221.1,203.5 L1243.5,183.1 L1265.8,172.9" stroke="#00cd00" stroke-width="3.0" stroke-dasharray="14.01 7.29"/>
<path d="M148.2,882.5 L170.5,864.7 L192.8,848.7 L215.2,833.5 L237.5,827.4 L259.9,827.9 L282.2,847.8 L304.5,847.3 L326.9,858.8 L349.2,871.8 L371.6,883.9 L393.9,901.9 L416.3,917.3 L438.6,936.8 L460.9,958.7 L483.3,974.4 L505.6,1005.8 L528.0,1019.8 L550.3,1032.8 L572.6,1047.7 L595.0,1067.2 L617.3,1081.8 L639.7,1089.8 L662.0,1097.7 L684.3,1104.7 L706.7,1106.8 L729.0,1108.8 L751.4,1109.8 L773.7,1103.8 L796.1,1090.8 L818.4,1084.6 L840.7,1069.0 L863.1,1044.6 L885.4,1012.2 L907.8,969.8 L930.1,916.8 L952.4,853.8 L974.8,786.2 L997.1,699.4 L1019.5,623.8 L1041.8,559.9 L1064.1,502.8 L1086.5,467.8 L1108.8,414.9 L1131.2,411.8 L1153.5,393.3 L1175.8,395.8 L1198.2,390.7 L1220.5,375.4 L1242.9,411.8 L1265.2,437.9 M148.7,882.5 L171.1,864.7 L193.4,848.7 L215.8,833.5 L238.1,827.4 L260.4,827.9 L282.8,847.8 L305.1,847.3 L327.5,858.8 L349.8,871.8 L372.2,883.9 L394.5,901.9 L416.8,917.3 L439.2,936.8 L461.5,958.7 L483.9,974.4 L506.2,1005.8 L528.5,1019.8 L550.9,1032.8 L573.2,1047.7 L595.6,1067.2 L617.9,1081.8 L640.2,1089.8 L662.6,1097.7 L684.9,1104.7 L707.3,1106.8 L729.6,1108.8 L751.9,1109.8 L774.3,1103.8 L796.6,1090.8 L819.0,1084.6 L841.3,1069.0 L863.7,1044.6 L886.0,1012.2 L908.3,969.8 L930.7,916.8 L953.0,853.8 L975.4,786.2 L997.7,699.4 L1020.0,623.8 L1042.4,559.9 L1064.7,502.8 L1087.1,467.8 L1109.4,414.9 L1131.7,411.8 L1154.1,393.3 L1176.4,395.8 L1198.8,390.7 L1221.1,375.4 L1243.5,411.8 L1265.8,437.9" stroke="#0000ff" stroke-width="3.0"/>
<path d="M148.2,882.5 L170.5,877.4 L192.8,876.1 L215.2,871.7 L237.5,872.3 L259.9,878.0 L282.2,889.3 L304.5,896.5 L326.9,912.6 L349.2,920.8 L371.6,937.8 L393.9,959.7 L416.3,974.7 L438.6,991.6 L460.9,1005.1 L483.3,1024.7 L505.6,1045.1 L528.0,1056.7 L550.3,1068.2 L572.6,1080.4 L595.0,1096.1 L617.3,1108.2 L639.7,1114.2 L662.0,1119.4 L684.3,1124.5 L706.7,1127.6 L729.0,1129.4 L751.4,1128.7 L773.7,1125.3 L796.1,1118.2 L818.4,1112.7 L840.7,1103.5 L863.1,1089.5 L885.4,1066.9 L907.8,1043.0 L930.1,1005.4 L952.4,967.7 L974.8,920.2 L997.1,876.6 L1019.5,822.4 L1041.8,771.2 L1064.1,715.9 L1086.5,678.7 L1108.8,644.5 L1131.2,601.6 L1153.5,586.9 L1175.8,585.0 L1198.2,582.5 L1220.5,565.0 L1242.9,575.5 L1265.2,530.2 M148.7,882.5 L171.1,877.4 L193.4,876.1 L215.8,871.7 L238.1,872.3 L260.4,878.0 L282.8,889.3 L305.1,896.5 L327.5,912.6 L349.8,920.8 L372.2,937.8 L394.5,959.7 L416.8,974.7 L439.2,991.6 L461.5,1005.1 L483.9,1024.7 L506.2,1045.1 L528.5,1056.7 L550.9,1068.2 L573.2,1080.4 L595.6,1096.1 L617.9,1108.2 L640.2,1114.2 L662.6,1119.4 L684.9,1124.5 L707.3,1127.6 L729.6,1129.4 L751.9,1128.7 L774.3,1125.3 L796.6,1118.2 L819.0,1112.7 L841.3,1103.5 L863.7,1089.5 L886.0,1066.9 L908.3,1043.0 L930.7,1005.4 L953.0,967.7 L975.4,920.2 L997.7,876.6 L1020.0,822.4 L1042.4,771.2 L1064.7,715.9 L1087.1,678.7 L1109.4,644.5 L1131.7,601.6 L1154.1,586.9 L1176.4,585.0 L1198.8,582.5 L1221.1,565.0 L1243.5,575.5 L1265.8,530.2" stroke="#00ffff" stroke-width="3.0" stroke-dasharray="7.62 9.42"/>
<path d="M148.2,882.5 L170.5,867.4 L192.8,871.8 L215.2,872.7 L237.5,872.4 L259.9,871.8 L282.2,880.8 L304.5,881.0 L326.9,886.4 L349.2,902.5 L371.6,931.5 L393.9,953.9 L416.3,972.9 L438.6,988.2 L460.9,1008.5 L483.3,1032.0 L505.6,1049.1 L528.0,1061.1 L550.3,1077.0 L572.6,1091.7 L595.0,1102.5 L617.3,1114.2 L639.7,1122.1 L662.0,1126.5 L684.3,1131.2 L706.7,1134.4 L729.0,1134.2 L751.4,1132.8 L773.7,1128.2 L796.1,1122.1 L818.4,1113.3 L840.7,1104.1 L863.1,1087.8 L885.4,1064.4 L907.8,1036.4 L930.1,998.3 L952.4,953.1 L974.8,914.0 L997.1,862.8 L1019.5,801.6 L1041.8,755.6 L1064.1,704.3 L1086.5,669.1 L1108.8,646.2 L1131.2,622.6 L1153.5,593.9 L1175.8,624.3 L1198.2,617.3 L1220.5,599.9 L1242.9,607.6 L1265.2,598.8 M148.7,882.5 L171.1,867.4 L193.4,871.8 L215.8,872.7 L238.1,872.4 L260.4,871.8 L282.8,880.8 L305.1,881.0 L327.5,886.4 L349.8,902.5 L372.2,931.5 L394.5,953.9 L416.8,972.9 L439.2,988.2 L461.5,1008.5 L483.9,1032.0 L506.2,1049.1 L528.5,1061.1 L550.9,1077.0 L573.2,1091.7 L595.6,1102.5 L617.9,1114.2 L640.2,1122.1 L662.6,1126.5 L684.9,1131.2 L707.3,1134.4 L729.6,1134.2 L751.9,1132.8 L774.3,1128.2 L796.6,1122.1 L819.0,1113.3 L841.3,1104.1 L863.7,1087.8 L886.0,1064.4 L908.3,1036.4 L930.7,998.3 L953.0,953.1 L975.4,914.0 L997.7,862.8 L1020.0,801.6 L1042.4,755.6 L1064.7,704.3 L1087.1,669.1 L1109.4,646.2 L1131.7,622.6 L1154.1,593.9 L1176.4,624.3 L1198.8,617.3 L1221.1,599.9 L1243.5,607.6 L1265.8,598.8" stroke="#ff00ff" stroke-width="3.0" stroke-dasharray="0.33 8.19"/>
<path d="M148.2,882.5 L170.5,851.9 L192.8,824.9 L215.2,805.4 L237.5,813.9 L259.9,815.3 L282.2,817.4 L304.5,833.4 L326.9,835.4 L349.2,849.8 L371.6,864.0 L393.9,877.9 L416.3,902.9 L438.6,926.3 L460.9,942.3 L483.3,963.2 L505.6,989.9 L528.0,1014.8 L550.3,1039.7 L572.6,1054.2 L595.0,1066.8 L617.3,1077.8 L639.7,1084.6 L662.0,1090.3 L684.3,1094.5 L706.7,1096.0 L729.0,1097.3 L751.4,1097.0 L773.7,1089.3 L796.1,1081.4 L818.4,1069.2 L840.7,1052.3 L863.1,1032.3 L885.4,1006.7 L907.8,968.8 L930.1,915.8 L952.4,848.1 L974.8,791.2 L997.1,720.8 L1019.5,653.7 L1041.8,597.2 L1064.1,544.6 L1086.5,501.6 L1108.8,439.5 L1131.2,390.7 L1153.5,378.0 L1175.8,350.0 L1198.2,343.0 L1220.5,333.4 L1242.9,309.2 L1265.2,309.2 M148.7,882.5 L171.1,851.9 L193.4,824.9 L215.8,805.4 L238.1,813.9 L260.4,815.3 L282.8,817.4 L305.1,833.4 L327.5,835.4 L349.8,849.8 L372.2,864.0 L394.5,877.9 L416.8,902.9 L439.2,926.3 L461.5,942.3 L483.9,963.2 L506.2,989.9 L528.5,1014.8 L550.9,1039.7 L573.2,1054.2 L595.6,1066.8 L617.9,1077.8 L640.2,1084.6 L662.6,1090.3 L684.9,1094.5 L707.3,1096.0 L729.6,1097.3 L751.9,1097.0 L774.3,1089.3 L796.6,1081.4 L819.0,1069.2 L841.3,1052.3 L863.7,1032.3 L886.0,1006.7 L908.3,968.8 L930.7,915.8 L953.0,848.1 L975.4,791.2 L997.7,720.8 L1020.0,653.7 L1042.4,597.2 L1064.7,544.6 L1087.1,501.6 L1109.4,439.5 L1131.7,390.7 L1154.1,378.0 L1176.4,350.0 L1198.8,343.0 L1221.1,333.4 L1243.5,309.2 L1265.8,309.2" stroke="#000000" stroke-width="3.0" stroke-dasharray="0.33 8.19 7.62 7.29"/>
<path d="M148.2,882.5 L170.5,862.9 L192.8,858.7 L215.2,847.8 L237.5,852.7 L259.9,852.2 L282.2,857.0 L304.5,861.3 L326.9,869.3 L349.2,876.8 L371.6,890.4 L393.9,900.3 L416.3,912.8 L438.6,936.8 L460.9,959.7 L483.3,978.7 L505.6,1003.4 L528.0,1021.2 L550.3,1043.5 L572.6,1063.0 L595.0,1079.6 L617.3,1095.7 L639.7,1106.0 L662.0,1113.5 L684.3,1121.5 L706.7,1124.8 L729.0,1126.6 L751.4,1126.8 L773.7,1123.4 L796.1,1117.0 L818.4,1107.6 L840.7,1096.4 L863.1,1080.7 L885.4,1056.5 L907.8,1026.5 L930.1,988.9 L952.4,935.1 L974.8,886.2 L997.1,825.2 L1019.5,755.3 L1041.8,700.2 L1064.1,653.1 L1086.5,608.6 L1108.8,578.7 L1131.2,587.6 L1153.5,584.7 L1175.8,579.9 L1198.2,544.9 L1220.5,519.4 L1242.9,492.3 L1265.2,499.0 M148.7,882.5 L171.1,862.9 L193.4,858.7 L215.8,847.8 L238.1,852.7 L260.4,852.2 L282.8,857.0 L305.1,861.3 L327.5,869.3 L349.8,876.8 L372.2,890.4 L394.5,900.3 L416.8,912.8 L439.2,936.8 L461.5,959.7 L483.9,978.7 L506.2,1003.4 L528.5,1021.2 L550.9,1043.5 L573.2,1063.0 L595.6,1079.6 L617.9,1095.7 L640.2,1106.0 L662.6,1113.5 L684.9,1121.5 L707.3,1124.8 L729.6,1126.6 L751.9,1126.8 L774.3,1123.4 L796.6,1117.0 L819.0,1107.6 L841.3,1096.4 L863.7,1080.7 L886.0,1056.5 L908.3,1026.5 L930.7,988.9 L953.0,935.1 L975.4,886.2 L997.7,825.2 L1020.0,755.3 L1042.4,700.2 L1064.7,653.1 L1087.1,608.6 L1109.4,578.7 L1131.7,587.6 L1154.1,584.7 L1176.4,579.9 L1198.8,544.9 L1221.1,519.4 L1243.5,492.3 L1265.8,499.0" stroke="#ff0000" stroke-width="3.0" stroke-dasharray="14.01 7.29"/>
<path d="M148.2,882.5 L170.5,859.8 L192.8,842.4 L215.2,850.0 L237.5,850.6 L259.9,861.8 L282.2,869.3 L304.5,873.3 L326.9,885.7 L349.2,898.7 L371.6,916.9 L393.9,935.8 L416.3,950.2 L438.6,969.7 L460.9,989.6 L483.3,1012.0 L505.6,1027.8 L528.0,1045.6 L550.3,1060.2 L572.6,1076.6 L595.0,1092.6 L617.3,1104.0 L639.7,1109.5 L662.0,1114.5 L684.3,1118.7 L706.7,1120.4 L729.0,1120.7 L751.4,1121.0 L773.7,1116.2 L796.1,1107.8 L818.4,1099.5 L840.7,1086.5 L863.1,1069.8 L885.4,1045.2 L907.8,1008.5 L930.1,971.2 L952.4,929.0 L974.8,881.2 L997.1,823.2 L1019.5,769.9 L1041.8,711.6 L1064.1,661.6 L1086.5,613.7 L1108.8,556.4 L1131.2,502.8 L1153.5,485.6 L1175.8,480.6 L1198.2,443.9 L1220.5,441.1 L1242.9,418.8 L1265.2,439.8 M148.7,882.5 L171.1,859.8 L193.4,842.4 L215.8,850.0 L238.1,850.6 L260.4,861.8 L282.8,869.3 L305.1,873.3 L327.5,885.7 L349.8,898.7 L372.2,916.9 L394.5,935.8 L416.8,950.2 L439.2,969.7 L461.5,989.6 L483.9,1012.0 L506.2,1027.8 L528.5,1045.6 L550.9,1060.2 L573.2,1076.6 L595.6,1092.6 L617.9,1104.0 L640.2,1109.5 L662.6,1114.5 L684.9,1118.7 L707.3,1120.4 L729.6,1120.7 L751.9,1121.0 L774.3,1116.2 L796.6,1107.8 L819.0,1099.5 L841.3,1086.5 L863.7,1069.8 L886.0,1045.2 L908.3,1008.5 L930.7,971.2 L953.0,929.0 L975.4,881.2 L997.7,823.2 L1020.0,769.9 L1042.4,711.6 L1064.7,661.6 L1087.1,613.7 L1109.4,556.4 L1131.7,502.8 L1154.1,485.6 L1176.4,480.6 L1198.8,443.9 L1221.1,441.1 L1243.5,418.8 L1265.8,439.8" stroke="#00cd00" stroke-width="3.0"/>
<path d="M148.2,882.5 L170.5,871.6 L192.8,866.7 L215.2,864.6 L237.5,865.4 L259.9,873.0 L282.2,880.0 L304.5,892.6 L326.9,903.1 L349.2,910.7 L371.6,928.3 L393.9,943.5 L416.3,964.5 L438.6,981.7 L460.9,1005.6 L483.3,1026.1 L505.6,1041.8 L528.0,1057.4 L550.3,1070.8 L572.6,1082.4 L595.0,1098.1 L617.3,1110.4 L639.7,1115.9 L662.0,1120.7 L684.3,1125.8 L706.7,1128.3 L729.0,1130.9 L751.4,1130.1 L773.7,1124.7 L796.1,1116.6 L818.4,1110.4 L840.7,1100.7 L863.1,1083.5 L885.4,1061.5 L907.8,1032.4 L930.1,992.4 L952.4,946.7 L974.8,904.5 L997.1,848.9 L1019.5,788.6 L1041.8,738.5 L1064.1,690.7 L1086.5,662.7 L1108.8,623.2 L1131.2,593.3 L1153.5,569.9 L1175.8,589.5 L1198.2,551.3 L1220.5,525.8 L1242.9,539.8 L1265.2,544.3 M148.7,882.5 L171.1,871.6 L193.4,866.7 L215.8,864.6 L238.1,865.4 L260.4,873.0 L282.8,880.0 L305.1,892.6 L327.5,903.1 L349.8,910.7 L372.2,928.3 L394.5,943.5 L416.8,964.5 L439.2,981.7 L461.5,1005.6 L483.9,1026.1 L506.2,1041.8 L528.5,1057.4 L550.9,1070.8 L573.2,1082.4 L595.6,1098.1 L617.9,1110.4 L640.2,1115.9 L662.6,1120.7 L684.9,1125.8 L707.3,1128.3 L729.6,1130.9 L751.9,1130.1 L774.3,1124.7 L796.6,1116.6 L819.0,1110.4 L841.3,1100.7 L863.7,1083.5 L886.0,1061.5 L908.3,1032.4 L930.7,992.4 L953.0,946.7 L975.4,904.5 L997.7,848.9 L1020.0,788.6 L1042.4,738.5 L1064.7,690.7 L1087.1,662.7 L1109.4,623.2 L1131.7,593.3 L1154.1,569.9 L1176.4,589.5 L1198.8,551.3 L1221.1,525.8 L1243.5,539.8 L1265.8,544.3" stroke="#0000ff" stroke-width="3.0" stroke-dasharray="7.62 9.42"/>
<path d="M148.2,882.5 L170.5,860.4 L192.8,850.7 L215.2,829.8 L237.5,832.1 L259.9,834.9 L282.2,842.8 L304.5,845.3 L326.9,858.8 L349.2,871.8 L371.6,894.2 L393.9,915.7 L416.3,931.8 L438.6,951.2 L460.9,981.8 L483.3,1004.6 L505.6,1029.3 L528.0,1045.6 L550.3,1066.6 L572.6,1082.5 L595.0,1096.7 L617.3,1110.4 L639.7,1117.0 L662.0,1124.6 L684.3,1130.4 L706.7,1133.9 L729.0,1136.4 L751.4,1135.7 L773.7,1132.9 L796.1,1128.3 L818.4,1120.3 L840.7,1110.7 L863.1,1098.6 L885.4,1071.6 L907.8,1042.3 L930.1,1006.6 L952.4,971.4 L974.8,930.0 L997.1,880.6 L1019.5,825.4 L1041.8,776.3 L1064.1,720.1 L1086.5,681.7 L1108.8,644.1 L1131.2,614.6 L1153.5,598.5 L1175.8,583.1 L1198.2,557.0 L1220.5,554.1 L1242.9,536.6 L1265.2,536.3 M148.7,882.5 L171.1,860.4 L193.4,850.7 L215.8,829.8 L238.1,832.1 L260.4,834.9 L282.8,842.8 L305.1,845.3 L327.5,858.8 L349.8,871.8 L372.2,894.2 L394.5,915.7 L416.8,931.8 L439.2,951.2 L461.5,981.8 L483.9,1004.6 L506.2,1029.3 L528.5,1045.6 L550.9,1066.6 L573.2,1082.5 L595.6,1096.7 L617.9,1110.4 L640.2,1117.0 L662.6,1124.6 L684.9,1130.4 L707.3,1133.9 L729.6,1136.4 L751.9,1135.7 L774.3,1132.9 L796.6,1128.3 L819.0,1120.3 L841.3,1110.7 L863.7,1098.6 L886.0,1071.6 L908.3,1042.3 L930.7,1006.6 L953.0,971.4 L975.4,930.0 L997.7,880.6 L1020.0,825.4 L1042.4,776.3 L1064.7,720.1 L1087.1,681.7 L1109.4,644.1 L1131.7,614.6 L1154.1,598.5 L1176.4,583.1 L1198.8,557.0 L1221.1,554.1 L1243.5,536.6 L1265.8,536.3" stroke="#00ffff" stroke-width="3.0" stroke-dasharray="0.33 8.19"/>
<path d="M148.2,882.5 L170.5,860.4 L192.8,848.1 L215.2,846.0 L237.5,852.0 L259.9,855.6 L282.2,855.9 L304.5,865.0 L326.9,868.9 L349.2,887.6 L371.6,905.4 L393.9,931.5 L416.3,950.2 L438.6,970.7 L460.9,990.9 L483.3,1004.7 L505.6,1022.9 L528.0,1036.5 L550.3,1052.0 L572.6,1065.6 L595.0,1082.8 L617.3,1094.4 L639.7,1104.6 L662.0,1110.2 L684.3,1117.6 L706.7,1122.3 L729.0,1125.7 L751.4,1125.8 L773.7,1120.9 L796.1,1114.2 L818.4,1108.1 L840.7,1094.9 L863.1,1076.3 L885.4,1049.2 L907.8,1013.4 L930.1,972.4 L952.4,929.0 L974.8,879.9 L997.1,805.4 L1019.5,743.0 L1041.8,672.8 L1064.1,610.5 L1086.5,566.2 L1108.8,528.0 L1131.2,507.3 L1153.5,508.9 L1175.8,489.2 L1198.2,499.0 L1220.5,495.8 L1242.9,460.2 L1265.2,461.4 M148.7,882.5 L171.1,860.4 L193.4,848.1 L215.8,846.0 L238.1,852.0 L260.4,855.6 L282.8,855.9 L305.1,865.0 L327.5,868.9 L349.8,887.6 L372.2,905.4 L394.5,931.5 L416.8,950.2 L439.2,970.7 L461.5,990.9 L483.9,1004.7 L506.2,1022.9 L528.5,1036.5 L550.9,1052.0 L573.2,1065.6 L595.6,1082.8 L617.9,1094.4 L640.2,1104.6 L662.6,1110.2 L684.9,1117.6 L707.3,1122.3 L729.6,1125.7 L751.9,1125.8 L774.3,1120.9 L796.6,1114.2 L819.0,1108.1 L841.3,1094.9 L863.7,1076.3 L886.0,1049.2 L908.3,1013.4 L930.7,972.4 L953.0,929.0 L975.4,879.9 L997.7,805.4 L1020.0,743.0 L1042.4,672.8 L1064.7,610.5 L1087.1,566.2 L1109.4,528.0 L1131.7,507.3 L1154.1,508.9 L1176.4,489.2 L1198.8,499.0 L1221.1,495.8 L1243.5,460.2 L1265.8,461.4" stroke="#ff00ff" stroke-width="3.0" stroke-dasharray="0.33 8.19 7.62 7.29"/>
<path d="M148.2,882.5 L170.5,872.3 L192.8,865.6 L215.2,872.9 L237.5,870.5 L259.9,876.9 L282.2,881.7 L304.5,892.1 L326.9,902.9 L349.2,919.6 L371.6,935.8 L393.9,949.7 L416.3,966.7 L438.6,985.7 L460.9,1009.6 L483.3,1028.8 L505.6,1042.5 L528.0,1057.2 L550.3,1072.0 L572.6,1085.3 L595.0,1098.1 L617.3,1110.6 L639.7,1116.8 L662.0,1123.1 L684.3,1128.6 L706.7,1130.8 L729.0,1130.9 L751.4,1131.3 L773.7,1126.0 L796.1,1120.5 L818.4,1111.7 L840.7,1103.7 L863.1,1088.6 L885.4,1066.8 L907.8,1036.7 L930.1,993.6 L952.4,957.8 L974.8,919.5 L997.1,868.7 L1019.5,808.0 L1041.8,760.8 L1064.1,710.2 L1086.5,671.8 L1108.8,621.3 L1131.2,613.7 L1153.5,589.5 L1175.8,578.4 L1198.2,536.0 L1220.5,522.0 L1242.9,509.2 L1265.2,471.6 M148.7,882.5 L171.1,872.3 L193.4,865.6 L215.8,872.9 L238.1,870.5 L260.4,876.9 L282.8,881.7 L305.1,892.1 L327.5,902.9 L349.8,919.6 L372.2,935.8 L394.5,949.7 L416.8,966.7 L439.2,985.7 L461.5,1009.6 L483.9,1028.8 L506.2,1042.5 L528.5,1057.2 L550.9,1072.0 L573.2,1085.3 L595.6,1098.1 L617.9,1110.6 L640.2,1116.8 L662.6,1123.1 L684.9,1128.6 L707.3,1130.8 L729.6,1130.9 L751.9,1131.3 L774.3,1126.0 L796.6,1120.5 L819.0,1111.7 L841.3,1103.7 L863.7,1088.6 L886.0,1066.8 L908.3,1036.7 L930.7,993.6 L953.0,957.8 L975.4,919.5 L997.7,868.7 L1020.0,808.0 L1042.4,760.8 L1064.7,710.2 L1087.1,671.8 L1109.4,621.3 L1131.7,613.7 L1154.1,589.5 L1176.4,578.4 L1198.8,536.0 L1221.1,522.0 L1243.5,509.2 L1265.8,471.6" stroke="#000000" stroke-width="3.0" stroke-dasharray="14.01 7.29"/>
</g>
<path d="M146.44,884.05 L148.45,882.50 L170.79,865.30 L193.13,856.38 L215.47,850.33 L237.81,849.69 L260.16,852.24 L282.50,857.78 L304.84,865.94 L327.18,877.72 L349.52,891.67 L371.86,909.25 L394.20,924.22 L416.54,940.47 L438.88,960.21 L461.22,982.51 L483.57,1001.62 L505.91,1019.77 L528.25,1036.85 L550.59,1053.53 L572.93,1068.63 L595.27,1084.43 L617.61,1097.81 L639.95,1105.90 L662.29,1111.95 L684.64,1117.87 L706.98,1121.69 L729.32,1123.29 L751.66,1122.59 L774.00,1117.81 L796.34,1110.55 L818.68,1101.95 L841.02,1090.16 L863.36,1071.05 L885.71,1044.93 L908.05,1009.90 L930.39,965.31 L952.73,917.53 L975.07,867.85 L997.41,805.42 L1019.75,741.09 L1042.09,683.12 L1064.43,630.25 L1086.78,585.66 L1109.12,545.85 L1131.46,517.50 L1153.80,499.66 L1176.14,482.46 L1198.48,471.63 L1220.82,463.99 L1243.16,458.89 L1265.50,456.67 L1267.51,456.46" fill="none" stroke="#000" stroke-width="5.6" stroke-linejoin="round" stroke-linecap="butt" shape-rendering="crispEdges"/>
</g>
<g fill="#000" shape-rendering="crispEdges">
<rect x="132" y="133" width="1560" height="3"/>
<rect x="132" y="1178" width="1560" height="3"/>
<rect x="132" y="133" width="4" height="1048"/>
<rect x="1688" y="133" width="4" height="1048"/>
<rect x="190" y="1180" width="3" height="21"/>
<rect x="478" y="1180" width="4" height="21"/>
<rect x="766" y="1180" width="4" height="21"/>
<rect x="1054" y="1180" width="4" height="21"/>
<rect x="1343" y="1180" width="4" height="21"/>
<rect x="1631" y="1180" width="4" height="21"/>
<rect x="105" y="881" width="28" height="3"/>
<rect x="105" y="562" width="28" height="4"/>
<rect x="105" y="244" width="28" height="3"/>
</g>
<g filter="url(#crisp)">
<text transform="translate(910.30,62.10) scale(1.2820,1)" font-size="40.80" text-anchor="middle">Example 2. Simulated sample paths. σ=0.025</text>
<text transform="translate(911.90,1332.80) scale(1.2880,1)" font-size="53.50" text-anchor="middle">Time</text>
</g>
<g filter="url(#crisp2)">
<text transform="translate(191.20,1251.90) scale(1.2350,1)" font-size="36.40" text-anchor="middle">0</text>
<text transform="translate(479.40,1251.90) scale(1.2350,1)" font-size="36.40" text-anchor="middle">10</text>
<text transform="translate(767.60,1251.90) scale(1.2350,1)" font-size="36.40" text-anchor="middle">20</text>
<text transform="translate(1055.80,1251.90) scale(1.2350,1)" font-size="36.40" text-anchor="middle">30</text>
<text transform="translate(1344.00,1251.90) scale(1.2350,1)" font-size="36.40" text-anchor="middle">40</text>
<text transform="translate(1632.20,1251.90) scale(1.2350,1)" font-size="36.40" text-anchor="middle">50</text>
<text transform="translate(68.20,881.90) scale(1.3000,1) rotate(-90)" font-size="34.40" text-anchor="middle">5</text>
<text transform="translate(68.20,563.40) scale(1.3000,1) rotate(-90)" font-size="34.40" text-anchor="middle">10</text>
<text transform="translate(68.20,244.90) scale(1.3000,1) rotate(-90)" font-size="34.40" text-anchor="middle">15</text>
</g>
</svg></body></html>
